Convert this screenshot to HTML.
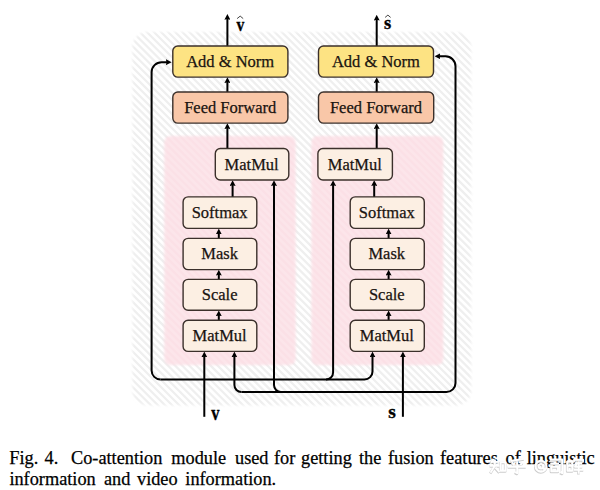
<!DOCTYPE html>
<html><head><meta charset="utf-8">
<style>
html,body{margin:0;padding:0;background:#fff;width:600px;height:490px;overflow:hidden}
svg{display:block}
text{font-family:"Liberation Serif",serif}
</style></head>
<body>
<svg width="600" height="490" viewBox="0 0 600 490">
<defs>
  <filter id="soft" x="-5%" y="-5%" width="110%" height="110%"><feGaussianBlur stdDeviation="1.1"/></filter>
  <mask id="mh"><rect x="132.3" y="32" width="339" height="373.5" rx="15" fill="#fff" filter="url(#soft)"/></mask>
  <mask id="mp"><rect x="164.3" y="136" width="131.3" height="229" rx="6" fill="#fff" filter="url(#soft)"/><rect x="311.4" y="136" width="131.9" height="229" rx="6" fill="#fff" filter="url(#soft)"/></mask>
  <g id="wm">
    <path d="M493.5,459.5 L491,463.5 M491,462.5 H498.5 M490,466.5 H499.5 M494.8,460 V466.5 M494.8,466.5 L490.5,473.5 M495.5,468.5 L499.5,473"/>
    <rect x="500.5" y="463" width="5" height="8.5"/>
    <path d="M524,459.5 L510.5,461.8 M512,463 L514,466 M522.5,463 L520.5,466 M508,467.5 H526 M517.2,462 V474 L515,472.8"/>
    <path d="M550,460.3 H562.3 V474 L560.3,473 M550.5,464.3 H559 M551.3,467.5 H558 V472 H551.3 Z"/>
    <path d="M567.5,462 H572.3 V471.5 H567.5 Z M567.5,466.7 H572.3 M574.2,462.5 V460.5 H583 V462.5 M575,464 H582 M577,464 L575,467.5 H582.5 M574,470.5 H583.5 M578.7,462 V474.5"/>
    <circle cx="541" cy="467" r="5.5"/><circle cx="541" cy="467" r="2.3"/><path d="M543.3,465 V469 Q543.5,470.5 545.5,469.5"/>
  </g>
  <path id="stripes" d="M-284.10,20L115.90,420M-277.00,20L123.00,420M-269.90,20L130.10,420M-262.80,20L137.20,420M-255.70,20L144.30,420M-248.60,20L151.40,420M-241.50,20L158.50,420M-234.40,20L165.60,420M-227.30,20L172.70,420M-220.20,20L179.80,420M-213.10,20L186.90,420M-206.00,20L194.00,420M-198.90,20L201.10,420M-191.80,20L208.20,420M-184.70,20L215.30,420M-177.60,20L222.40,420M-170.50,20L229.50,420M-163.40,20L236.60,420M-156.30,20L243.70,420M-149.20,20L250.80,420M-142.10,20L257.90,420M-135.00,20L265.00,420M-127.90,20L272.10,420M-120.80,20L279.20,420M-113.70,20L286.30,420M-106.60,20L293.40,420M-99.50,20L300.50,420M-92.40,20L307.60,420M-85.30,20L314.70,420M-78.20,20L321.80,420M-71.10,20L328.90,420M-64.00,20L336.00,420M-56.90,20L343.10,420M-49.80,20L350.20,420M-42.70,20L357.30,420M-35.60,20L364.40,420M-28.50,20L371.50,420M-21.40,20L378.60,420M-14.30,20L385.70,420M-7.20,20L392.80,420M-0.10,20L399.90,420M7.00,20L407.00,420M14.10,20L414.10,420M21.20,20L421.20,420M28.30,20L428.30,420M35.40,20L435.40,420M42.50,20L442.50,420M49.60,20L449.60,420M56.70,20L456.70,420M63.80,20L463.80,420M70.90,20L470.90,420M78.00,20L478.00,420M85.10,20L485.10,420M92.20,20L492.20,420M99.30,20L499.30,420M106.40,20L506.40,420M113.50,20L513.50,420M120.60,20L520.60,420M127.70,20L527.70,420M134.80,20L534.80,420M141.90,20L541.90,420M149.00,20L549.00,420M156.10,20L556.10,420M163.20,20L563.20,420M170.30,20L570.30,420M177.40,20L577.40,420M184.50,20L584.50,420M191.60,20L591.60,420M198.70,20L598.70,420M205.80,20L605.80,420M212.90,20L612.90,420M220.00,20L620.00,420M227.10,20L627.10,420M234.20,20L634.20,420M241.30,20L641.30,420M248.40,20L648.40,420M255.50,20L655.50,420M262.60,20L662.60,420M269.70,20L669.70,420M276.80,20L676.80,420M283.90,20L683.90,420M291.00,20L691.00,420M298.10,20L698.10,420M305.20,20L705.20,420M312.30,20L712.30,420M319.40,20L719.40,420M326.50,20L726.50,420M333.60,20L733.60,420M340.70,20L740.70,420M347.80,20L747.80,420M354.90,20L754.90,420M362.00,20L762.00,420M369.10,20L769.10,420M376.20,20L776.20,420M383.30,20L783.30,420M390.40,20L790.40,420M397.50,20L797.50,420M404.60,20L804.60,420M411.70,20L811.70,420M418.80,20L818.80,420M425.90,20L825.90,420M433.00,20L833.00,420M440.10,20L840.10,420M447.20,20L847.20,420M454.30,20L854.30,420M461.40,20L861.40,420M468.50,20L868.50,420M475.60,20L875.60,420M482.70,20L882.70,420"/>
  <marker id="ah" viewBox="0 0 5.8 6" refX="1.8" refY="3" markerWidth="5.8" markerHeight="6" markerUnits="userSpaceOnUse" orient="auto">
    <path d="M0,0 L5.8,3 L0,6 L0.8,3 Z" fill="#000"/>
  </marker>
</defs>

<!-- hatched background -->
<g mask="url(#mh)">
  <use href="#stripes" stroke="#efefef" stroke-width="2.3" fill="none"/>
</g>
<!-- pink regions -->
<g mask="url(#mp)">
  <rect x="150" y="120" width="310" height="260" fill="#fce5ea"/>
  <use href="#stripes" stroke="#fbe0e6" stroke-width="2.3" fill="none"/>
</g>

<g stroke="#000" stroke-width="2" fill="none" marker-end="url(#ah)">
  <!-- left column -->
  <path d="M227.4,46 V18.0"/>
  <path d="M227.4,92 V81.3"/>
  <path d="M227.4,148.5 V127.3"/>
  <path d="M232.6,197 V184.2"/>
  <path d="M218.8,238.4 V232.6"/>
  <path d="M218.8,279.4 V273.8"/>
  <path d="M218.8,320.2 V314.4"/>
  <!-- right column -->
  <path d="M376.7,46 V18.8"/>
  <path d="M376.7,92 V81.3"/>
  <path d="M376.7,148.5 V127.3"/>
  <path d="M374.2,197 V184.2"/>
  <path d="M388.6,238.4 V232.6"/>
  <path d="M388.6,279.4 V273.8"/>
  <path d="M388.6,320.2 V314.4"/>
  <!-- inputs -->
  <path d="M204.3,416.8 V355.6"/>
  <path d="M402.9,416.8 V355.6"/>
  <!-- path A -->
  <path d="M160.6,379.5 A9,9 0 0 1 151.6,370.5 V72.2 A10,10 0 0 1 161.6,62.2 H167.6"/>
  <path d="M160.6,379.5 H364.5 A8,8 0 0 0 372.5,371.5 V355.6"/>
  <path d="M326,379.5 A7,7 0 0 0 333.1,372.5 V184.2"/>
  <!-- path B -->
  <path d="M241.4,392 A7,7 0 0 1 234.4,385 V355.6"/>
  <path d="M241.4,392 H446.5 A9,9 0 0 0 455.5,383 V66.3 A10,10 0 0 0 445.5,56.3 H438.6"/>
  <path d="M281,392 A7,7 0 0 1 274,385 V184.2"/>
</g>

<g stroke="#3b302b" stroke-width="1.4">
  <rect x="172.80" y="46.00" width="115.10" height="31.10" rx="5" fill="#fde383"/>
  <rect x="172.80" y="92.00" width="115.10" height="31.10" rx="5" fill="#f9c7a8"/>
  <rect x="215.30" y="148.50" width="73.50" height="31.50" rx="5" fill="#fcefe3"/>
  <rect x="183.10" y="196.90" width="73.70" height="31.50" rx="5" fill="#fcefe3"/>
  <rect x="183.10" y="238.40" width="73.70" height="31.20" rx="5" fill="#fcefe3"/>
  <rect x="183.10" y="279.40" width="73.70" height="30.80" rx="5" fill="#fcefe3"/>
  <rect x="183.10" y="320.20" width="73.70" height="31.20" rx="5" fill="#fcefe3"/>
  <rect x="318.50" y="46.00" width="115.00" height="31.10" rx="5" fill="#fde383"/>
  <rect x="318.50" y="92.00" width="115.20" height="31.10" rx="5" fill="#f9c7a8"/>
  <rect x="317.90" y="148.50" width="74.50" height="31.50" rx="5" fill="#fcefe3"/>
  <rect x="350.20" y="196.90" width="74.10" height="31.50" rx="5" fill="#fcefe3"/>
  <rect x="350.20" y="238.40" width="74.10" height="31.20" rx="5" fill="#fcefe3"/>
  <rect x="350.20" y="279.40" width="74.10" height="30.80" rx="5" fill="#fcefe3"/>
  <rect x="350.20" y="320.20" width="74.10" height="31.20" rx="5" fill="#fcefe3"/>
</g>

<g font-size="16.5" text-anchor="middle" fill="#1a1410" stroke="#1a1410" stroke-width="0.25">
  <text x="230.2" y="66.9">Add &amp; Norm</text>
  <text x="230.2" y="112.9">Feed Forward</text>
  <text x="251.6" y="169.6">MatMul</text>
  <text x="219.6" y="218.0">Softmax</text>
  <text x="219.6" y="259.4">Mask</text>
  <text x="219.6" y="300.2">Scale</text>
  <text x="219.6" y="341.2">MatMul</text>

  <text x="375.9" y="66.9">Add &amp; Norm</text>
  <text x="376.0" y="112.9">Feed Forward</text>
  <text x="354.8" y="169.6">MatMul</text>
  <text x="386.8" y="218.0">Softmax</text>
  <text x="386.8" y="259.4">Mask</text>
  <text x="386.8" y="300.2">Scale</text>
  <text x="386.8" y="341.2">MatMul</text>
</g>

<g font-size="19" font-weight="bold" fill="#000" stroke="#000" stroke-width="0.35">
  <text x="236.4" y="30.7" transform="translate(236.4 0) scale(0.8 1) translate(-236.4 0)" font-size="19.5">v</text>
  <path d="M237.1,18.6 L240.2,16.1 L243.2,18.6" stroke="#444" stroke-width="1.0" fill="none"/>
  <text x="384" y="28.6" font-size="18.5">s</text>
  <path d="M385.1,17.4 L387.9,15.1 L390.6,17.4" stroke="#444" stroke-width="1.0" fill="none"/>
  <text x="211.3" y="419.9" transform="translate(211.3 0) scale(0.8 1) translate(-211.3 0)" font-size="20.5">v</text>
  <text x="388.2" y="418.3" font-size="19.5">s</text>
</g>

<g font-size="18.3" fill="#000" stroke="#000" stroke-width="0.25">
  <text y="463.6"><tspan x="9.3">Fig.</tspan><tspan x="44.5">4.</tspan><tspan x="71">Co-attention</tspan><tspan x="171.3">module</tspan><tspan x="235">used</tspan><tspan x="274">for</tspan><tspan x="301">getting</tspan><tspan x="359">the</tspan><tspan x="388">fusion</tspan><tspan x="440">features</tspan><tspan x="505.6">of</tspan><tspan x="526.7">linguistic</tspan></text>
  <text y="485"><tspan x="9.4">information</tspan><tspan x="104">and</tspan><tspan x="137">video</tspan><tspan x="185.3">information.</tspan></text>
</g>
<g fill="none" stroke-linejoin="round">
  <use href="#wm" transform="translate(-0.3,0)" stroke="#cdcdcd" stroke-width="2.6"/>
  <use href="#wm" transform="translate(0,-0.8)" stroke="#ffffff" stroke-width="1.9"/>
</g>
</svg>
</body></html>
